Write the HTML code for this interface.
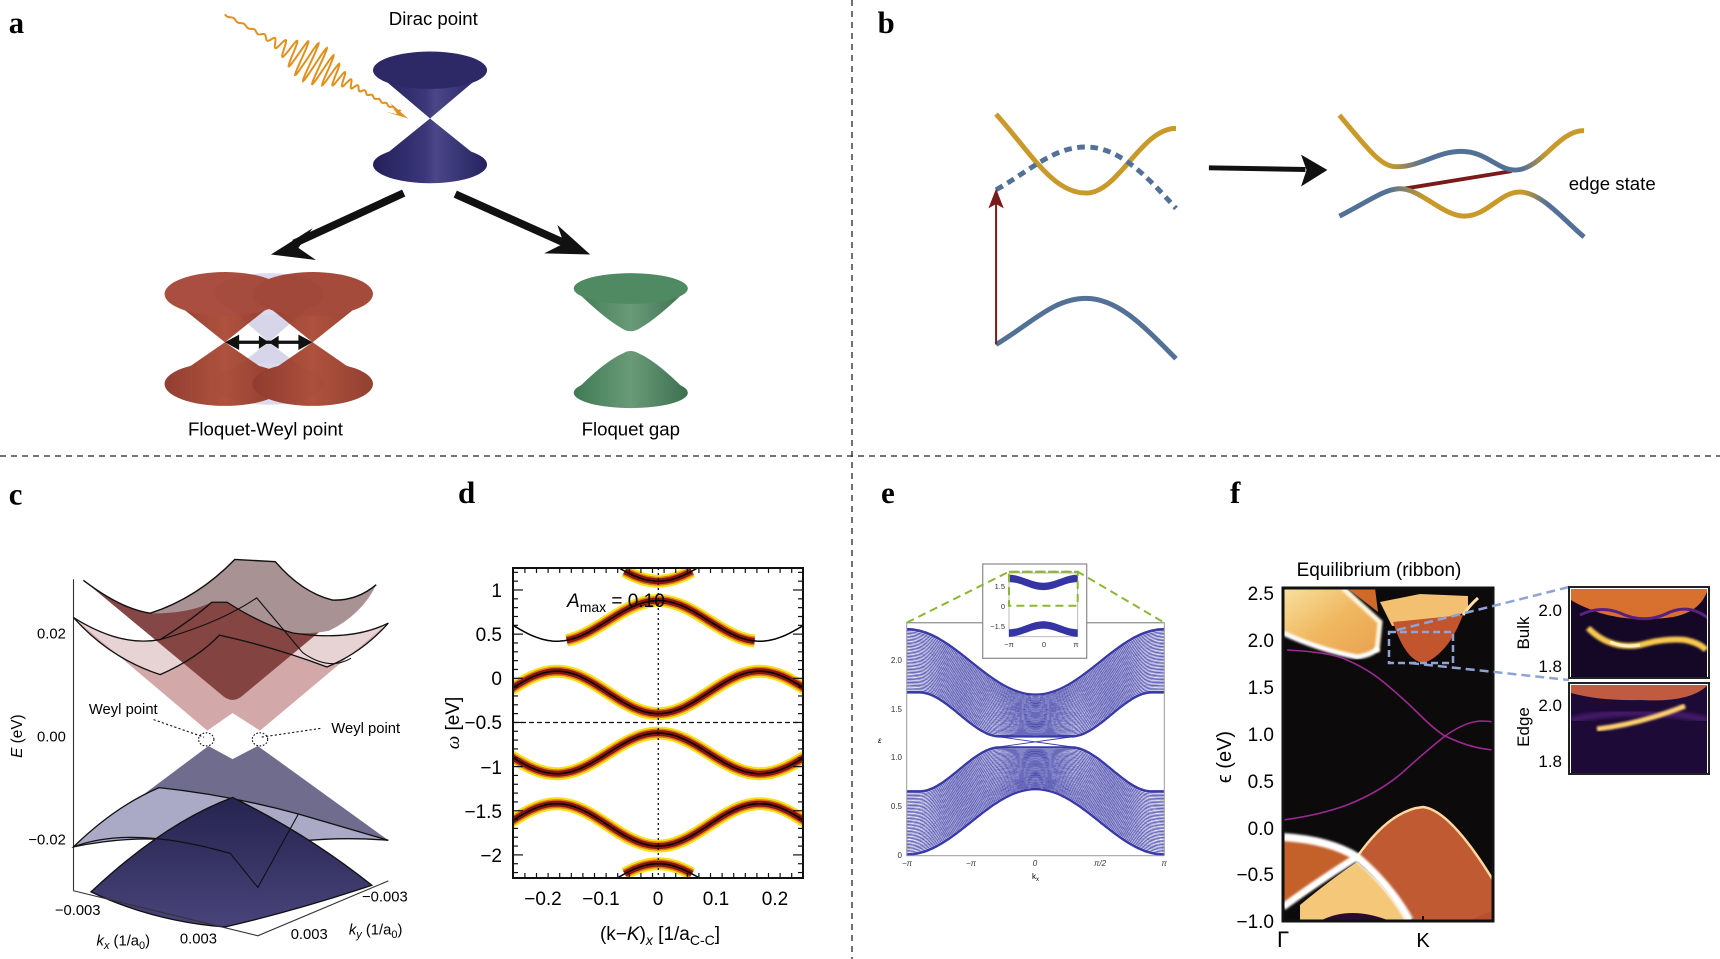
<!DOCTYPE html>
<html><head><meta charset="utf-8"><style>
html,body{margin:0;padding:0;background:#fff;}
svg{display:block;}
text{font-family:"Liberation Sans",sans-serif;}
.pl{font-family:"Liberation Serif",serif;font-weight:bold;font-size:31px;}
</style></head><body>
<svg id="s" xmlns="http://www.w3.org/2000/svg" width="1720" height="959" viewBox="0 0 1720 959">
<defs>
<linearGradient id="gBlue" x1="0" x2="1" y1="0" y2="0"><stop offset="0" stop-color="#23205a"/><stop offset="0.45" stop-color="#3a3678"/><stop offset="0.55" stop-color="#4a4688"/><stop offset="1" stop-color="#25225e"/></linearGradient>
<linearGradient id="gRed" x1="0" x2="1"><stop offset="0" stop-color="#8a2e20"/><stop offset="0.5" stop-color="#a8442e"/><stop offset="1" stop-color="#8a3020"/></linearGradient>
<linearGradient id="gGreen" x1="0" x2="1"><stop offset="0" stop-color="#3f7a55"/><stop offset="0.5" stop-color="#6a9a78"/><stop offset="1" stop-color="#3c7050"/></linearGradient>
<linearGradient id="gNavy" x1="0" y1="0" x2="0" y2="1"><stop offset="0" stop-color="#25234f"/><stop offset="1" stop-color="#48447a"/></linearGradient>
<linearGradient id="gU1" x1="0" x2="1"><stop offset="0" stop-color="#c99a2a"/><stop offset="0.2" stop-color="#c99a2a"/><stop offset="0.35" stop-color="#537196"/><stop offset="0.75" stop-color="#537196"/><stop offset="0.85" stop-color="#c99a2a"/><stop offset="1" stop-color="#c99a2a"/></linearGradient>
<linearGradient id="gU2" x1="0" x2="1"><stop offset="0" stop-color="#537196"/><stop offset="0.2" stop-color="#537196"/><stop offset="0.35" stop-color="#c99a2a"/><stop offset="0.75" stop-color="#c99a2a"/><stop offset="0.85" stop-color="#537196"/><stop offset="1" stop-color="#537196"/></linearGradient>
<linearGradient id="gY" x1="0" x2="1" y1="0" y2="1"><stop offset="0" stop-color="#f8e0a0"/><stop offset="0.5" stop-color="#f0b860"/><stop offset="1" stop-color="#e8a050"/></linearGradient>
<clipPath id="cd"><rect x="513" y="568" width="290" height="310"/></clipPath>
<clipPath id="cf"><rect x="1283" y="588" width="210" height="333"/></clipPath>
<clipPath id="cb1"><rect x="1571" y="589" width="136" height="88"/></clipPath>
<clipPath id="cb2"><rect x="1571" y="685" width="136" height="88"/></clipPath>
<filter id="bl"><feGaussianBlur stdDeviation="2"/></filter>
<filter id="bl1"><feGaussianBlur stdDeviation="1"/></filter>
</defs>

<line x1="852" y1="0" x2="852" y2="959" stroke="#222" stroke-width="1.3" stroke-dasharray="6,5"/>
<line x1="0" y1="456" x2="1720" y2="456" stroke="#222" stroke-width="1.3" stroke-dasharray="6,5"/>

<g transform="scale(1.097)">
<text x="8" y="30" class="pl" style="font-size:28px">a</text>
<text x="395" y="23" font-size="17" text-anchor="middle">Dirac point</text>
<path id="wave" fill="none" stroke="#e0901c" stroke-width="1.8"/>
<path d="M372,108 L356,94 L362,104 L352,102 Z" fill="#e0901c"/>
<path d="M340,64 L392,108 L444,64 Z" fill="url(#gBlue)"/>
<ellipse cx="392" cy="64" rx="52" ry="17" fill="#2c2966"/>
<path d="M340,150 L392,108 L444,150 Z" fill="url(#gBlue)"/>
<ellipse cx="392" cy="150" rx="52" ry="17" fill="url(#gBlue)"/>
<path d="M368,176 L268,222" stroke="#111" stroke-width="7"/>
<path d="M247,232 L285,208 L272,226 L288,237 Z" fill="#111"/>
<path d="M415,177 L518,223" stroke="#111" stroke-width="7"/>
<path d="M538,232 L496,231 L514,222 L508,205 Z" fill="#111"/>
<g opacity="0.55"><path d="M195,268 L245,312 L295,268 Z M195,350 L245,312 L295,350Z" fill="#b8b4d8"/><ellipse cx="245" cy="268" rx="50" ry="19" fill="#c0bce0"/><ellipse cx="245" cy="350" rx="50" ry="19" fill="#c0bce0"/></g>
<g opacity="0.92">
<path d="M150,268 L205,312 L260,268 Z" fill="url(#gRed)"/><ellipse cx="205" cy="268" rx="55" ry="20" fill="#a24030"/>
<path d="M150,350 L205,312 L260,350 Z" fill="url(#gRed)"/><ellipse cx="205" cy="350" rx="55" ry="20" fill="url(#gRed)"/>
<path d="M230,268 L285,312 L340,268 Z" fill="url(#gRed)"/><ellipse cx="285" cy="268" rx="55" ry="20" fill="#9e3c2c"/>
<path d="M230,350 L285,312 L340,350 Z" fill="url(#gRed)"/><ellipse cx="285" cy="350" rx="55" ry="20" fill="url(#gRed)"/>
</g>
<path d="M214,312 L276,312" stroke="#111" stroke-width="3"/>
<path d="M205,312 L218,305 L218,319 Z M285,312 L272,305 L272,319 Z M245,312 L236,306 L236,318 Z M245,312 L254,306 L254,318Z" fill="#111"/>
<text x="242" y="397" font-size="17" text-anchor="middle">Floquet-Weyl point</text>
<path d="M523,263 Q550,290 568,300 Q575,304 582,300 Q600,290 627,263 Z" fill="url(#gGreen)"/>
<ellipse cx="575" cy="263" rx="52" ry="14" fill="#4f8a62"/>
<path d="M523,358 Q550,330 568,322 Q575,318 582,322 Q600,330 627,358 Z" fill="url(#gGreen)"/>
<ellipse cx="575" cy="358" rx="52" ry="14" fill="url(#gGreen)"/>
<text x="575" y="397" font-size="17" text-anchor="middle">Floquet gap</text>

<text x="800" y="30" class="pl" style="font-size:28px">b</text>
<path d="M908,104 C940,140 960,176 990,176 C1020,176 1040,117 1072,117" fill="none" stroke="#c99a2a" stroke-width="4.5"/>
<path d="M908,173 C940,155 960,134 990,134 C1020,134 1045,160 1072,190" fill="none" stroke="#537196" stroke-width="4.5" stroke-dasharray="7,5"/>
<path d="M908,314 C940,295 960,272 990,272 C1020,272 1045,300 1072,327" fill="none" stroke="#537196" stroke-width="4.5"/>
<line x1="908" y1="314" x2="908" y2="185" stroke="#7a1a1a" stroke-width="1.8"/>
<path d="M908,172 L901,190 L908,186 L915,190 Z" fill="#7a1a1a"/>
<path d="M1102,153 L1190,154.5" stroke="#111" stroke-width="4.5"/>
<path d="M1210,155 L1186,141 L1191,155 L1186,170 Z" fill="#111"/>
<path d="M1280,172 L1378,156" stroke="#7a1a1a" stroke-width="3.5"/>
<path d="M1221,105 C1250,140 1260,152 1273,152 C1295,152 1310,138 1332,138 C1355,138 1365,155 1381,155 C1405,155 1420,119 1444,119" fill="none" stroke="url(#gU1)" stroke-width="4.5"/>
<path d="M1221,197 C1245,185 1262,172 1276,172 C1295,172 1315,197 1335,197 C1355,197 1368,175 1385,175 C1405,175 1425,200 1444,216" fill="none" stroke="url(#gU2)" stroke-width="4.5"/>
<text x="1430" y="173" font-size="17">edge state</text>

<!-- panel c -->
<text x="8" y="460" class="pl" style="font-size:28px">c</text>
<line x1="67" y1="528" x2="67" y2="812" stroke="#333" stroke-width="1"/>
<g font-size="13.5" text-anchor="end">
<text x="60" y="582">0.02</text><text x="60" y="676">0.00</text><text x="60" y="770">−0.02</text></g>
<text transform="translate(20,671) rotate(-90)" font-size="14" text-anchor="middle"><tspan font-style="italic">E</tspan> (eV)</text>
<!-- wings between curve2 and curve3 -->
<path d="M67,563 Q110,590 146,583 Q175,565 193,549 L207,549 Q240,570 267,577 Q320,585 354,568 Q330,595 298,608 Q250,590 200,579 Q180,600 146,615 Q100,600 67,563 Z" fill="#e7d3d3"/>
<!-- pink front -->
<path d="M67,563 Q100,600 146,615 Q180,600 200,579 Q250,590 298,608 Q330,595 354,568 L237,666 L212,650 L189,666 Z" fill="#d3a8a8"/>
<!-- dark red V -->
<path d="M76,529 Q110,555 137,559 Q180,545 214,510 L251,512 Q275,540 303,547 Q325,548 343,533 L220,635 Q212,641 204,635 Z" fill="#7e3d3b" opacity="0.95"/>
<!-- gray -->
<path d="M137,559 Q180,545 214,510 L251,512 Q275,540 303,547 Q325,548 343,533 Q330,560 300,575 Q285,578 267,577 Q240,570 207,549 L193,549 Q170,560 137,559 Z" fill="#a99294"/>
<!-- lines -->
<path d="M76,529 Q110,555 137,559 Q180,545 214,510 L251,512 Q275,540 303,547 Q325,548 343,533" fill="none" stroke="#111" stroke-width="1.3"/>
<path d="M67,563 Q110,590 146,583 Q175,565 193,549 L207,549 Q240,570 267,577 Q320,585 354,568" fill="none" stroke="#111" stroke-width="1.2"/>
<path d="M67,563 Q100,600 146,615 Q180,600 200,579 Q250,590 298,608 Q330,595 354,568" fill="none" stroke="#111" stroke-width="1.2"/>
<path d="M146,583 Q200,568 234,545 L276,595 Q300,612 320,600" fill="none" stroke="#111" stroke-width="1"/>
<!-- lower surfaces -->
<path d="M67,772 Q105,735 145,718 Q210,725 272,742 L354,766 L235,680 L212,692 L190,680 Z" fill="#6f6c8e"/>
<path d="M67,772 Q105,735 145,718 Q210,725 272,742 L354,766 Q280,760 210,778 Q150,755 67,772 Z" fill="#aaa9c6" stroke="#111" stroke-width="1.2"/>
<path d="M83,813 Q150,750 212,727 Q280,760 339,807 Q270,830 205,845 Q140,840 83,813 Z" fill="url(#gNavy)" stroke="#111" stroke-width="1.2"/>
<path d="M210,778 L235,809 L272,742" fill="none" stroke="#111" stroke-width="1"/>
<path d="M67,772 Q120,752 210,778" fill="none" stroke="#111" stroke-width="1.2"/>
<path d="M67,812 L235,853 L354,803" fill="none" stroke="#333" stroke-width="1"/>
<g font-size="13.5">
<text x="50" y="834">−0.003</text><text x="164" y="860">0.003</text><text x="265" y="856">0.003</text><text x="330" y="822">−0.003</text>
<text x="88" y="862"><tspan font-style="italic">k</tspan><tspan font-size="10" dy="3" font-style="italic">x</tspan><tspan dy="-3"> (1/a</tspan><tspan font-size="10" dy="3">0</tspan><tspan dy="-3">)</tspan></text>
<text x="318" y="852"><tspan font-style="italic">k</tspan><tspan font-size="10" dy="3" font-style="italic">y</tspan><tspan dy="-3"> (1/a</tspan><tspan font-size="10" dy="3">0</tspan><tspan dy="-3">)</tspan></text>
<text x="81" y="651">Weyl point</text><text x="302" y="668">Weyl point</text></g>
<path d="M140,656 L186,672 M292,664 L238,672" stroke="#111" stroke-width="1" stroke-dasharray="2,2"/>
<ellipse cx="188" cy="674" rx="7" ry="6" fill="none" stroke="#111" stroke-dasharray="1.5,1.5"/>
<ellipse cx="237" cy="674" rx="7" ry="6" fill="none" stroke="#111" stroke-dasharray="1.5,1.5"/>
</g>

<!-- panel d -->
<text x="458" y="503" class="pl">d</text>
<g clip-path="url(#cd)" id="dbands"></g>
<line x1="513" y1="722.5" x2="803" y2="722.5" stroke="#111" stroke-width="1.3" stroke-dasharray="5,3"/>
<line x1="658.3" y1="568" x2="658.3" y2="878" stroke="#111" stroke-width="1.3" stroke-dasharray="2,3"/>
<g id="dticks" stroke="#111" stroke-width="1.2"></g>
<rect x="513" y="568" width="290" height="310" fill="none" stroke="#111" stroke-width="2"/>
<g font-size="19" text-anchor="end">
<text x="502" y="597">1</text><text x="502" y="641">0.5</text><text x="502" y="685">0</text><text x="502" y="729">−0.5</text><text x="502" y="774">−1</text><text x="502" y="818">−1.5</text><text x="502" y="862">−2</text></g>
<g font-size="19" text-anchor="middle">
<text x="543" y="905">−0.2</text><text x="601" y="905">−0.1</text><text x="658" y="905">0</text><text x="716" y="905">0.1</text><text x="775" y="905">0.2</text></g>
<text x="660" y="940" font-size="19" text-anchor="middle">(k−<tspan font-style="italic">K</tspan>)<tspan font-style="italic" font-size="14" dy="5">x</tspan><tspan dy="-5"> [1/a</tspan><tspan font-size="14" dy="5">C-C</tspan><tspan dy="-5">]</tspan></text>
<text transform="translate(459,723) rotate(-90)" font-size="19" text-anchor="middle"><tspan font-family="Liberation Serif" font-style="italic">ω</tspan> [eV]</text>
<text x="567" y="607" font-size="19"><tspan font-style="italic">A</tspan><tspan font-size="14" dy="5">max</tspan><tspan dy="-5"> = 0.10</tspan></text>

<!-- panel e -->
<text x="881" y="503" class="pl">e</text>
<line x1="906.7" y1="622.7" x2="1164.3" y2="622.7" stroke="#aaa" stroke-width="1.3"/>
<g id="ebands"></g>
<rect x="906.7" y="622.7" width="257.6" height="233" fill="none" stroke="#999" stroke-width="1"/>
<g font-size="8" text-anchor="end" fill="#333">
<text x="902" y="858">0</text><text x="902" y="809">0.5</text><text x="902" y="760">1.0</text><text x="902" y="712">1.5</text><text x="902" y="663">2.0</text></g>
<g font-size="8" text-anchor="middle" fill="#333" font-style="italic">
<text x="907" y="866">−π</text><text x="971" y="866">−π</text><text x="1035" y="866">0</text><text x="1100" y="866">π/2</text><text x="1164" y="866">π</text></g>
<text x="878" y="743" font-size="8" font-style="italic">ε</text>
<text x="1032" y="879" font-size="8">k<tspan font-size="6" dy="2">x</tspan></text>
<rect x="982.7" y="564" width="104" height="94.3" fill="#fff" stroke="#888" stroke-width="1.2"/>
<rect x="1009" y="573" width="68.7" height="63.7" fill="none" stroke="#aaa" stroke-width="0.8"/>
<g id="einset"></g>
<g font-size="7.5" fill="#333" text-anchor="end"><text x="1005" y="589">1.5</text><text x="1005" y="609">0</text><text x="1005" y="629">−1.5</text></g>
<g font-size="7.5" fill="#333" text-anchor="middle"><text x="1009" y="647">−π</text><text x="1044" y="647">0</text><text x="1076" y="647">π</text></g>
<g stroke="#8ab832" stroke-width="2" stroke-dasharray="8,5" fill="none">
<path d="M906.7,622.7 L1009,571.7 L1077.7,571.7 L1164.3,622.7"/>
<rect x="1009" y="571.7" width="68.7" height="34"/></g>

<!-- panel f -->
<text x="1230" y="503" class="pl">f</text>
<text x="1379" y="576" font-size="19" text-anchor="middle">Equilibrium (ribbon)</text>
<g clip-path="url(#cf)">
<rect x="1283" y="588" width="210" height="333" fill="#0c0a0a"/>
<path d="M1283,588 L1343,588 L1380,622 L1377,652 L1357,657 L1320,648 L1283,632 Z" fill="url(#gY)"/>
<path d="M1343,588 L1380,622 L1377,652" fill="none" stroke="#fff6e0" stroke-width="5" filter="url(#bl1)"/>
<path d="M1283,633 Q1320,650 1357,657 Q1372,655 1378,648" fill="none" stroke="#fff" stroke-width="5" filter="url(#bl1)"/>
<path d="M1347,588 L1375,588 L1378,612 Z" fill="#d06a2a"/>
<path d="M1380,602 L1420,594 L1468,596 L1468,610 L1450,620 L1392,626 Z" fill="#f2c070"/>
<path d="M1393,622 L1463,615 Q1455,635 1447,645 Q1435,660 1423,663 Q1405,660 1393,622 Z" fill="#c2552e"/>
<path d="M1463,615 Q1470,605 1478,598" stroke="#ffe0a0" stroke-width="3" fill="none"/>
<path d="M1287,650 Q1330,652 1347,660 Q1370,670 1387,685 Q1405,700 1420,715 Q1435,730 1445,736 Q1470,748 1493,750" fill="none" stroke="#9a2a90" stroke-width="1.6"/>
<path d="M1283,820 Q1320,815 1347,805 Q1380,792 1403,772 Q1425,752 1445,736 Q1465,722 1480,721 Q1488,721 1493,722" fill="none" stroke="#9a2a90" stroke-width="1.6"/>
<path d="M1283,838 Q1320,840 1348,853 L1357,857 L1300,898 L1283,905 Z" fill="#c4602a"/>
<path d="M1300,905 Q1330,880 1357,862 Q1390,890 1407,921 L1300,921 Z" fill="#f4c878"/>
<path d="M1357,857 Q1390,810 1423,807 Q1450,810 1493,880 L1493,921 L1415,921 Q1390,885 1357,857 Z" fill="#bf5a32"/>
<path d="M1357,857 Q1390,810 1423,807 Q1450,810 1493,880" fill="none" stroke="#ffd8a0" stroke-width="2.5"/>
<path d="M1283,837 Q1330,840 1357,857 Q1390,885 1410,921" fill="none" stroke="#fff" stroke-width="8" filter="url(#bl1)"/>
<path d="M1283,907 Q1320,880 1357,857" fill="none" stroke="#fff" stroke-width="7" filter="url(#bl1)"/>
<path d="M1320,921 Q1350,905 1390,921 Z" fill="#2a0a30"/>
<path d="M1470,921 Q1485,912 1493,912 L1493,921Z" fill="#b85030"/>
</g>
<rect x="1283" y="588" width="210" height="333" fill="none" stroke="#111" stroke-width="3"/>
<rect x="1389" y="632" width="64" height="31" fill="none" stroke="#8fa3d6" stroke-width="2.5" stroke-dasharray="7,4"/>
<path d="M1397,630 L1569,587 M1410,663 L1569,680" stroke="#8fa3d6" stroke-width="2.5" stroke-dasharray="9,5"/>
<g font-size="19" text-anchor="end">
<text x="1274" y="600">2.5</text><text x="1274" y="647">2.0</text><text x="1274" y="694">1.5</text><text x="1274" y="741">1.0</text><text x="1274" y="788">0.5</text><text x="1274" y="835">0.0</text><text x="1274" y="881">−0.5</text><text x="1274" y="928">−1.0</text></g>
<text transform="translate(1231,757) rotate(-90)" font-size="20" text-anchor="middle">ϵ (eV)</text>
<text x="1283" y="947" font-size="22" font-family="Liberation Serif" text-anchor="middle">Γ</text>
<text x="1423" y="947" font-size="20" text-anchor="middle">K</text>
<line x1="1423" y1="921" x2="1423" y2="916" stroke="#111" stroke-width="2"/>
<g clip-path="url(#cb1)">
<rect x="1569" y="587" width="140" height="92" fill="#150826"/>
<path d="M1571,589 L1708,589 Q1700,615 1665,618 Q1630,622 1600,613 Q1580,606 1571,600 Z" fill="#d87030"/>
<path d="M1580,615 Q1600,605 1620,613 Q1645,625 1670,612 Q1690,604 1708,618" fill="none" stroke="#5a2080" stroke-width="3"/>
<path d="M1588,628 Q1610,650 1640,645 Q1665,638 1685,640 Q1700,643 1706,650" fill="none" stroke="#f8c850" stroke-width="6" filter="url(#bl1)"/>
<path d="M1610,642 Q1625,648 1640,645" fill="none" stroke="#fff4c0" stroke-width="3"/>
</g>
<g clip-path="url(#cb2)">
<rect x="1569" y="683" width="140" height="92" fill="#1e0a36"/>
<path d="M1571,685 L1708,685 Q1690,703 1640,700 Q1600,701 1571,693 Z" fill="#c05a40"/>
<path d="M1571,720 Q1640,705 1708,720" fill="none" stroke="#4a1a70" stroke-width="6" filter="url(#bl)"/>
<path d="M1597,729 Q1640,724 1685,706" fill="none" stroke="#ffd070" stroke-width="5" filter="url(#bl1)"/>
</g>
<rect x="1569" y="587" width="140" height="91" fill="none" stroke="#222" stroke-width="2"/>
<rect x="1569" y="683" width="140" height="91" fill="none" stroke="#222" stroke-width="2"/>
<g font-size="17" text-anchor="end"><text x="1562" y="616">2.0</text><text x="1562" y="672">1.8</text><text x="1562" y="711">2.0</text><text x="1562" y="767">1.8</text></g>
<text transform="translate(1529,633) rotate(-90)" font-size="17" text-anchor="middle">Bulk</text>
<text transform="translate(1529,727) rotate(-90)" font-size="17" text-anchor="middle">Edge</text>
</svg>
<script>
var NS="http://www.w3.org/2000/svg";
function el(t,a,p){var e=document.createElementNS(NS,t);for(var k in a)e.setAttribute(k,a[k]);p.appendChild(e);return e;}
(function(){var x0=205,y0=13,x1=365,y1=102,d="";var dx=x1-x0,dy=y1-y0,L=Math.hypot(dx,dy),ux=dx/L,uy=dy/L,nx=-uy,ny=ux;
for(var i=0;i<=400;i++){var t=i/400,s=t*L,a=18*Math.exp(-Math.pow((t-0.5)/0.16,2))+0.8;var o=a*Math.sin(s*0.55*(1+0.3*t));var x=x0+ux*s+nx*o,y=y0+uy*s+ny*o;d+=(i?"L":"M")+x.toFixed(1)+","+y.toFixed(1);}
document.getElementById("wave").setAttribute("d",d);})();
(function(){var g=document.getElementById("dbands");var X=function(k){return 658.3+k*580},Y=function(w){return 678.3-w*88.3};
var P=2*Math.PI/0.35;var bands=[[1.33,-0.23,0],[0.65,0.23,1],[-0.16,-0.24,2],[-0.85,0.23,2],[-1.66,-0.24,2],[-2.33,0.23,0]];
bands.forEach(function(b){var d="",dh="";for(var k=-0.27;k<=0.27;k+=0.004){var w=b[0]+b[1]*Math.cos(P*k);var pt=X(k).toFixed(1)+","+Y(w).toFixed(1);d+=(d?"L":"M")+pt;
 if(b[2]==2||(b[2]==1&&k>-0.16&&k<0.17)||(b[2]==0&&Math.abs(k)<0.06)){dh+=(dh?"L":"M")+pt;}}
 if(dh){el("path",{d:dh,fill:"none",stroke:"#f6e21a",'stroke-width':13},g);el("path",{d:dh,fill:"none",stroke:"#e07a18",'stroke-width':9},g);el("path",{d:dh,fill:"none",stroke:"#8a1410",'stroke-width':6},g);}
 el("path",{d:d,fill:"none",stroke:"#000",'stroke-width':1.5},g);});
var t=document.getElementById("dticks");
for(var i=-25;i<=25;i+=2){var k=i/100;var x=X(k);var len=(i%10==0)?9:5;el("line",{x1:x,y1:878,x2:x,y2:878-len},t);el("line",{x1:x,y1:568,x2:x,y2:568+len},t);}
for(var i=-22;i<=12;i++){var w=i/10;var y=Y(w);var len=(i%5==0)?10:5;el("line",{x1:513,y1:y,x2:513+len,y2:y},t);el("line",{x1:803,y1:y,x2:803-len,y2:y},t);}
})();
(function(){var g=document.getElementById("ebands");var X=function(k){return 1035.5+k/Math.PI*128.8},Y=function(e){return 855.7-e*97.7};
function sm(u){u=Math.max(0,Math.min(1,u));return u*u*(3-2*u);}
function top(k){return 1.985-0.335*Math.cos(k);}function bot(k){return 1.22+0.45*sm((Math.abs(k)-0.28*Math.PI)/(0.62*Math.PI));}
var N=44;for(var i=0;i<=N;i++){var f=i/N,d1="",d2="";for(var j=0;j<=120;j++){var k=-Math.PI+2*Math.PI*j/120;var e1=bot(k)+(top(k)-bot(k))*f;var e2=2.33-e1;d1+=(j?"L":"M")+X(k).toFixed(1)+","+Y(e1).toFixed(1);d2+=(j?"L":"M")+X(k).toFixed(1)+","+Y(e2).toFixed(1);}
 var sw=(i==0||i==N)?2.2:0.7;el("path",{d:d1,fill:"none",stroke:"#3a3aa6",'stroke-width':sw},g);el("path",{d:d2,fill:"none",stroke:"#3a3aa6",'stroke-width':sw},g);}
el("path",{d:"M"+X(-0.3*Math.PI)+","+Y(1.22)+"L"+X(0.3*Math.PI)+","+Y(1.11)+"M"+X(-0.3*Math.PI)+","+Y(1.11)+"L"+X(0.3*Math.PI)+","+Y(1.22),stroke:"#3a3aa6",'stroke-width':0.9,fill:"none"},g);
var gi=document.getElementById("einset");var xi=function(k){return 1043.3+k/Math.PI*34.3},yi=function(e){return 605.7-e*13.3};
function band(c,a,w){var up="";for(var j=0;j<=40;j++){var k=-Math.PI+2*Math.PI*j/40;var e=c+a*Math.cos(k);up+=(j?"L":"M")+xi(k).toFixed(1)+","+yi(e+w).toFixed(1);}
 for(var j=40;j>=0;j--){var k=-Math.PI+2*Math.PI*j/40;var e=c+a*Math.cos(k);up+="L"+xi(k).toFixed(1)+","+yi(e-w).toFixed(1);}el("path",{d:up+"Z",fill:"#3434a4"},gi);}
band(1.75,-0.3,0.28);band(-1.75,0.3,0.28);
})();
</script>
</body></html>
